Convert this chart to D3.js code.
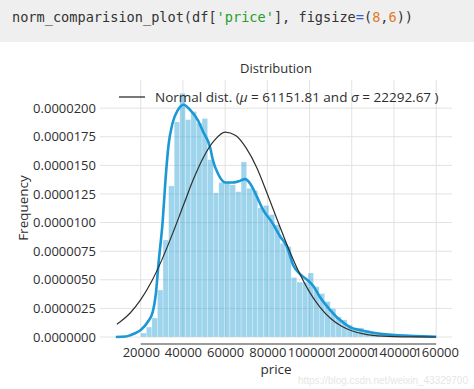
<!DOCTYPE html>
<html>
<head>
<meta charset="utf-8">
<script src="https://cdn.jsdelivr.net/npm/d3@7"></script>
<style>
  body { margin: 0; background: #fff; }
  svg { display: block; }
</style>
</head>
<body>
<svg id="chart" width="474" height="389"></svg>
<script>
// histogram: 50 bins between 20000 and 152100, density per bin
var histRange = [20000, 152100]
var histDensity = [
  0.35, 0.87, 1.66, 4.11, 8.48, 13.2, 18.8, 21.3, 19.0, 19.7,
  18.7, 19.1, 15.5, 12.6, 13.5, 13.5, 13.3, 12.7, 15.3, 13.0,
  12.8, 11.3, 11.5, 10.7, 9.8, 8.2, 7.9, 5.2, 4.8, 4.8,
  5.6, 4.4, 3.8, 3.1, 2.5, 1.75, 1.5, 1.05, 0.8, 0.8,
  0.6, 0.45, 0.35, 0.26, 0.26, 0.18, 0.09, 0.09, 0.05, 0.05
].map(function(d){ return d * 1e-6 })

// kde line
var kdeX = [8200, 12900, 15300, 17600, 20000, 23300, 25700, 27100, 28500, 30400,
  31800, 33200, 35100, 37500, 40300, 43600, 46900, 49700, 53000, 54000,
  56800, 60100, 63400, 66200, 69500, 71900, 75200, 78000, 82300, 86000,
  89300, 92200, 95500, 98800, 101600, 104900, 109600, 114300, 119100, 123800,
  130800, 140300, 149700, 160000]
var kdeY = [0, 0.04, 0.17, 0.35, 0.61, 1.31, 2.19, 3.67, 6.56, 10.1,
  13.9, 16.8, 18.7, 19.8, 20.3, 19.8, 19.0, 17.9, 16.5, 15.6,
  14.2, 13.5, 13.5, 13.6, 13.8, 13.4, 12.2, 11.1, 10.0, 8.8,
  7.9, 6.3, 5.5, 5.0, 4.5, 3.5, 2.4, 1.5, 0.87, 0.61,
  0.35, 0.17, 0.09, 0.02]

// fitted normal line
var normX = [8700, 10000, 15000, 20000, 25000, 30000, 35000, 40000, 45000, 50000,
  55000, 60000, 65000, 70000, 75000, 80000, 85000, 90000, 95000, 100000,
  105000, 110000, 115000, 120000, 125000, 130000, 135000, 140000, 150000, 160000]
var normY = [1.12, 1.29, 2.10, 3.26, 4.80, 6.74, 8.99, 11.4, 13.8, 15.8,
  17.2, 17.9, 17.6, 16.5, 14.8, 12.5, 10.1, 7.75, 5.65, 3.92,
  2.59, 1.62, 0.97, 0.55, 0.30, 0.15, 0.07, 0.03, 0.006, 0.001]

var xTicks = [20000, 40000, 60000, 80000, 100000, 120000, 140000, 160000]
var yTicks = [0, 2.5e-6, 5e-6, 7.5e-6, 1e-5, 1.25e-5, 1.5e-5, 1.75e-5, 2e-5]

var mu = "61151.81"
var sigma = "22292.67"

var svg = d3.select("#chart")
var font = "'Open Sans', sans-serif"
var textColor = "#2e2e2e"
var blue = "#1b98d5"

// code cell on top
svg.append("rect").attr("x", 0).attr("y", 0).attr("width", 474).attr("height", 42).attr("fill", "#efefef")
var code = svg.append("text")
  .attr("x", 12).attr("y", 22)
  .style("font-family", "'DejaVu Sans Mono', monospace")
  .style("font-size", "13.6px")
  .attr("fill", "#333")
var parts = [
  ["norm_comparision_plot(df[", "#333"],
  ["'price'", "#22a02a"],
  ["], figsize", "#333"],
  ["=", "#2f5fd0"],
  ["(", "#333"],
  ["8", "#e07a2a"],
  [",", "#333"],
  ["6", "#e07a2a"],
  ["))", "#333"]
]
parts.forEach(function(p){
  code.append("tspan").text(p[0]).attr("fill", p[1])
})

var x = d3.scaleLinear().domain([700, 167500]).range([100, 452])
var y = d3.scaleLinear().domain([0, 22.46e-6]).range([337, 80])

// grid
svg.append("g").selectAll("line")
  .data(yTicks).enter().append("line")
  .attr("x1", 100).attr("x2", 452)
  .attr("y1", function(d){ return y(d) }).attr("y2", function(d){ return y(d) })
  .attr("stroke", "#e2e2e2").attr("stroke-width", 1)
svg.append("g").selectAll("line")
  .data(xTicks).enter().append("line")
  .attr("x1", function(d){ return x(d) }).attr("x2", function(d){ return x(d) })
  .attr("y1", y.range()[1]).attr("y2", y.range()[0])
  .attr("stroke", "#e2e2e2").attr("stroke-width", 1)

// histogram bars
var binW = (histRange[1] - histRange[0]) / histDensity.length
svg.append("g").selectAll("rect")
  .data(histDensity).enter().append("rect")
  .attr("x", function(d, i){ return x(histRange[0] + i * binW) })
  .attr("width", function(d, i){ return x(histRange[0] + (i + 1) * binW) - x(histRange[0] + i * binW) })
  .attr("y", function(d){ return y(d) })
  .attr("height", function(d){ return y(0) - y(d) })
  .attr("fill", blue).attr("fill-opacity", 0.42)
  .attr("stroke", "#fff").attr("stroke-width", 0.4).attr("stroke-opacity", 0.7)

// lines
var line = d3.line()
  .x(function(d){ return x(d[0]) })
  .y(function(d){ return y(d[1] * 1e-6) })
  .curve(d3.curveMonotoneX)

svg.append("path")
  .datum(kdeX.map(function(v, i){ return [v, kdeY[i]] }))
  .attr("d", line)
  .attr("fill", "none").attr("stroke", blue).attr("stroke-width", 2.6)

svg.append("path")
  .datum(normX.map(function(v, i){ return [v, normY[i]] }))
  .attr("d", line)
  .attr("fill", "none").attr("stroke", "#2f2f2f").attr("stroke-width", 1.2)

// y axis labels
svg.append("g").selectAll("text")
  .data(yTicks).enter().append("text")
  .attr("x", 96).attr("y", function(d){ return y(d) })
  .attr("dy", "0.35em")
  .attr("text-anchor", "end")
  .style("font-family", font).style("font-size", "13px")
  .attr("fill", textColor)
  .text(function(d){ return d.toFixed(7) })

// x axis: trimmed spine moved down
var xAxis = d3.axisBottom(x).tickValues(xTicks).tickSize(0).tickPadding(4)
  .tickFormat(d3.format("d"))
var gx = svg.append("g").attr("transform", "translate(0,344)").call(xAxis)
gx.select(".domain").remove()
gx.append("line")
  .attr("x1", x(xTicks[0])).attr("x2", x(xTicks[xTicks.length - 1]))
  .attr("stroke", "#3a3a3a").attr("stroke-width", 1.1)
gx.selectAll("text")
  .style("font-family", font).style("font-size", "13px")
  .attr("fill", textColor)

// labels
svg.append("text")
  .attr("x", 276).attr("y", 374)
  .attr("text-anchor", "middle")
  .style("font-family", font).style("font-size", "13.5px")
  .attr("fill", textColor)
  .text("price")

svg.append("text")
  .attr("transform", "translate(28,208) rotate(-90)")
  .attr("text-anchor", "middle")
  .style("font-family", font).style("font-size", "13.5px")
  .attr("fill", textColor)
  .text("Frequency")

svg.append("text")
  .attr("x", 276).attr("y", 73)
  .attr("text-anchor", "middle")
  .style("font-family", font).style("font-size", "13px")
  .attr("fill", textColor)
  .text("Distribution")

// legend
svg.append("line")
  .attr("x1", 119).attr("x2", 145).attr("y1", 97).attr("y2", 97)
  .attr("stroke", "#2f2f2f").attr("stroke-width", 1.3)
var leg = svg.append("text")
  .attr("x", 155).attr("y", 102)
  .style("font-family", font).style("font-size", "13.5px")
  .attr("fill", textColor)
leg.append("tspan").text("Normal dist. (")
leg.append("tspan").text("μ").style("font-style", "italic")
leg.append("tspan").text(" =  " + mu + " and ")
leg.append("tspan").text("σ").style("font-style", "italic")
leg.append("tspan").text(" =  " + sigma + " )")

// watermark
svg.append("text")
  .attr("x", 468).attr("y", 384)
  .attr("text-anchor", "end")
  .style("font-family", "Arial, 'Liberation Sans', sans-serif").style("font-size", "10px")
  .attr("fill", "#e6e6e6")
  .text("https://blog.csdn.net/weixin_43329700")
</script>
</body>
</html>
